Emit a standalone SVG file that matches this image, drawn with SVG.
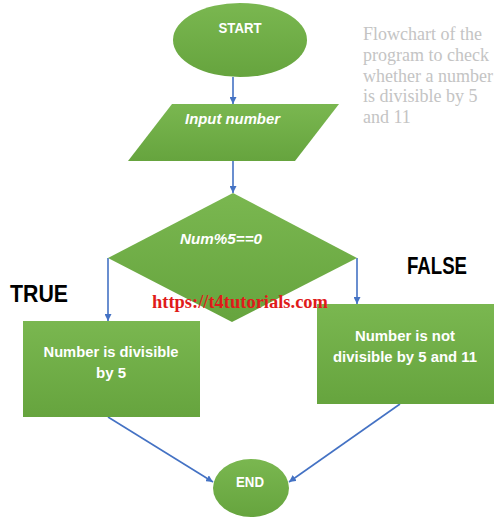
<svg xmlns="http://www.w3.org/2000/svg" width="504" height="525" viewBox="0 0 504 525">
<defs>
<linearGradient id="g" x1="0" y1="0" x2="0" y2="1">
<stop offset="0" stop-color="#7ab750"/>
<stop offset="1" stop-color="#66a43e"/>
</linearGradient>
<marker id="ah" viewBox="0 0 10 10" refX="10" refY="5" markerWidth="7" markerHeight="7" markerUnits="userSpaceOnUse" orient="auto">
<path d="M0,0 L10,5 L0,10 z" fill="#4472c4"/>
</marker>
<style>
.shape{fill:url(#g);}
.lbl{font-family:"Liberation Sans",Arial,sans-serif;font-weight:bold;fill:#ffffff;text-anchor:middle;}
.it{font-style:italic;}
.tf{font-family:"Liberation Sans",Arial,sans-serif;font-weight:bold;fill:#000000;}
.conn{stroke:#4472c4;stroke-width:1.6;fill:none;marker-end:url(#ah);}
.cap{font-family:"Liberation Serif","Times New Roman",serif;font-size:18px;fill:#c4c4c4;}
</style>
</defs>
<rect width="504" height="525" fill="#ffffff"/>
<g id="connectors">
<line class="conn" x1="233" y1="77" x2="233" y2="104"/>
<line class="conn" x1="233" y1="161" x2="233" y2="193"/>
<line class="conn" x1="108" y1="258" x2="108" y2="321"/>
<line class="conn" x1="357" y1="258" x2="357" y2="304"/>
<line class="conn" x1="108" y1="417" x2="213" y2="482"/>
<line class="conn" x1="400" y1="404" x2="289" y2="482"/>
</g>
<g id="start">
<ellipse class="shape" cx="240" cy="40" rx="67" ry="37"/>
<text class="lbl" x="240" y="33" font-size="14" textLength="43" lengthAdjust="spacingAndGlyphs">START</text>
</g>
<g id="input">
<polygon class="shape" points="172,104 339,104 295,161 128,161"/>
<text class="lbl it" x="232.5" y="124" font-size="15" textLength="95" lengthAdjust="spacingAndGlyphs">Input number</text>
</g>
<g id="decision">
<polygon class="shape" points="233,193 357,258 232,322 108,258"/>
<text class="lbl it" x="221" y="244" font-size="14" textLength="82" lengthAdjust="spacingAndGlyphs">Num%5==0</text>
</g>
<g id="true-box">
<rect class="shape" x="23" y="321" width="177" height="96"/>
<text class="lbl" x="111" y="357" font-size="15" textLength="135" lengthAdjust="spacingAndGlyphs">Number is divisible</text>
<text class="lbl" x="111" y="378" font-size="15">by 5</text>
</g>
<g id="false-box">
<rect class="shape" x="317" y="304" width="177" height="100"/>
<text class="lbl" x="405" y="341" font-size="15" textLength="100" lengthAdjust="spacingAndGlyphs">Number is not</text>
<text class="lbl" x="405" y="362" font-size="15" textLength="144" lengthAdjust="spacingAndGlyphs">divisible by 5 and 11</text>
</g>
<g id="end">
<ellipse class="shape" cx="251" cy="488" rx="38" ry="29"/>
<text class="lbl" x="250" y="487" font-size="15" textLength="28" lengthAdjust="spacingAndGlyphs">END</text>
</g>
<g id="labels">
<text class="tf" x="10" y="302" font-size="23.5" textLength="58" lengthAdjust="spacingAndGlyphs">TRUE</text>
<text class="tf" x="407" y="274" font-size="23.5" textLength="60" lengthAdjust="spacingAndGlyphs">FALSE</text>
<text x="152" y="308" font-family="'Liberation Serif','Times New Roman',serif" font-weight="bold" font-size="18" fill="#e01b1b" textLength="176" lengthAdjust="spacingAndGlyphs">https://t4tutorials.com</text>
</g>
<g id="caption">
<text class="cap" x="363" y="40">Flowchart of the</text>
<text class="cap" x="363" y="61">program to check</text>
<text class="cap" x="363" y="82">whether a number</text>
<text class="cap" x="363" y="102">is divisible by 5</text>
<text class="cap" x="363" y="123">and 11</text>
</g>
</svg>
